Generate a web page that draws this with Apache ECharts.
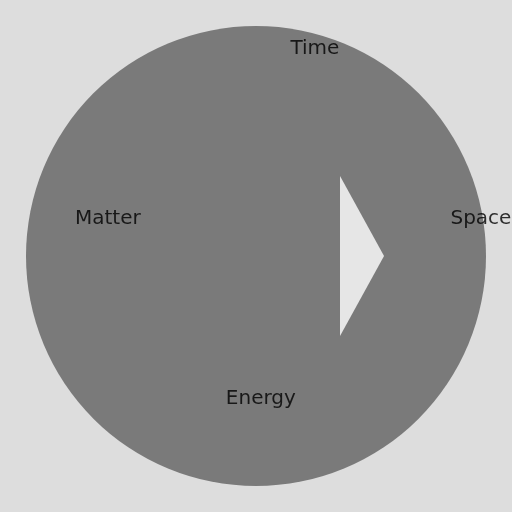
<!DOCTYPE html>
<html>
<head>
<meta charset="utf-8">
<script src="https://cdn.jsdelivr.net/npm/echarts@6/dist/echarts.min.js"></script>
<style>
html,body{margin:0;padding:0;background:#dddddd;}
#chart{width:512px;height:512px;}
</style>
</head>
<body>
<div id="chart"></div>
<script>
// Labels and their positions (in unit-circle coordinates)
var labelNames = ['Time', 'Space', 'Energy', 'Matter'];
var labelX = [0.256, 0.978, 0.021, -0.644];
var labelY = [0.900, 0.161, -0.621, 0.161];
// Disc (background) and marker triangle
var discPoint = [0, 0];
var markerPoint = [0.461, 0];

var chart = echarts.init(document.getElementById('chart'), null, {renderer: 'canvas'});
var labelData = labelNames.map(function (n, i) { return {name: n, value: [labelX[i], labelY[i]]}; });

chart.setOption({
  backgroundColor: '#dddddd',
  animation: false,
  grid: {left: 26, right: 26, top: 26, bottom: 26},
  xAxis: {type: 'value', min: -1, max: 1, show: false},
  yAxis: {type: 'value', min: -1, max: 1, show: false},
  series: [
    {
      type: 'scatter',
      data: [discPoint],
      symbol: 'circle',
      symbolSize: 460,
      itemStyle: {color: '#7a7a7a', opacity: 1},
      silent: true,
      z: 1
    },
    {
      type: 'scatter',
      data: [markerPoint],
      symbol: 'triangle',
      symbolSize: [160, 44],
      symbolRotate: -90,
      itemStyle: {color: '#e6e6e6', opacity: 1},
      silent: true,
      z: 2
    },
    {
      type: 'scatter',
      data: labelData,
      symbolSize: 0,
      label: {
        show: true,
        position: 'inside',
        formatter: '{b}',
        color: '#000000',
        fontSize: 20,
        fontFamily: 'DejaVu Sans'
      },
      z: 3
    }
  ]
});
</script>
</body>
</html>
